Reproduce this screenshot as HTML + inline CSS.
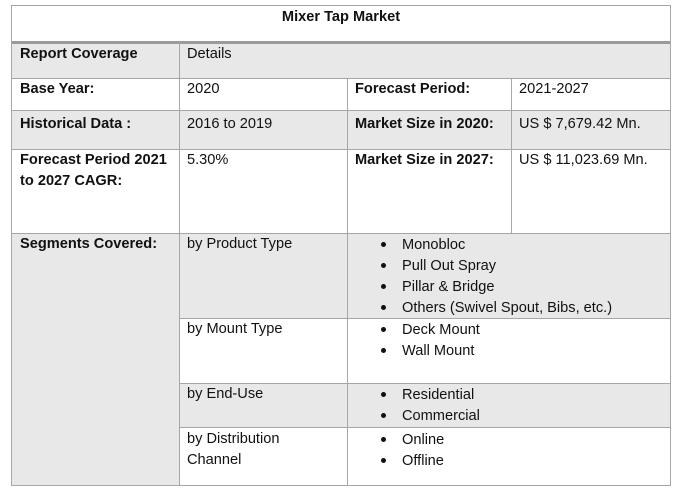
<!DOCTYPE html>
<html><head><meta charset="utf-8"><style>
body{margin:0;width:679px;height:495px;background:#fff;position:relative;overflow:hidden;font-family:"Liberation Sans Narrow","Liberation Sans",sans-serif;font-size:14.6px;color:#111}
div{position:absolute}
.g{background:#e8e8e8}
.h{height:1px;background:#a6a6a6}
.v{width:1px;background:#a6a6a6}
.b{font-weight:bold}
.t{white-space:nowrap;line-height:21px;padding-top:1px}
.dot{width:5px;height:5px;border-radius:50%;background:#111}
</style></head><body>
<div class="g" style="left:11px;top:42px;width:659px;height:36px"></div>
<div class="g" style="left:11px;top:110px;width:659px;height:39px"></div>
<div class="g" style="left:11px;top:233px;width:168px;height:252px"></div>
<div class="g" style="left:179px;top:233px;width:491px;height:85px"></div>
<div class="g" style="left:179px;top:383px;width:491px;height:44px"></div>
<div class="h" style="left:11px;top:5px;width:660px"></div>
<div class="h" style="left:11px;top:41px;width:660px;height:3px;background:#9a9a9a"></div>
<div class="h" style="left:11px;top:78px;width:660px"></div>
<div class="h" style="left:11px;top:110px;width:660px"></div>
<div class="h" style="left:11px;top:149px;width:660px"></div>
<div class="h" style="left:11px;top:233px;width:660px"></div>
<div class="h" style="left:179px;top:318px;width:492px"></div>
<div class="h" style="left:179px;top:383px;width:492px"></div>
<div class="h" style="left:179px;top:427px;width:492px"></div>
<div class="h" style="left:11px;top:485px;width:660px"></div>
<div class="v" style="left:11px;top:5px;height:481px"></div>
<div class="v" style="left:670px;top:5px;height:481px"></div>
<div class="v" style="left:179px;top:42px;height:443px"></div>
<div class="v" style="left:347px;top:78px;height:407px"></div>
<div class="v" style="left:511px;top:78px;height:155px"></div>
<div class="t b" style="left:11px;width:660px;text-align:center;top:6px">Mixer Tap Market</div>
<div class="t b" style="left:20px;top:43px">Report Coverage</div>
<div class="t" style="left:187px;top:43px">Details</div>
<div class="t b" style="left:20px;top:78px">Base Year:</div>
<div class="t" style="left:187px;top:78px">2020</div>
<div class="t b" style="left:355px;top:78px">Forecast Period:</div>
<div class="t" style="left:519px;top:78px">2021-2027</div>
<div class="t b" style="left:20px;top:113px">Historical Data :</div>
<div class="t" style="left:187px;top:113px">2016 to 2019</div>
<div class="t b" style="left:355px;top:113px">Market Size in 2020:</div>
<div class="t" style="left:519px;top:113px">US $ 7,679.42 Mn.</div>
<div class="t b" style="left:20px;top:149px">Forecast Period 2021<br>to 2027 CAGR:</div>
<div class="t" style="left:187px;top:149px">5.30%</div>
<div class="t b" style="left:355px;top:149px">Market Size in 2027:</div>
<div class="t" style="left:519px;top:149px">US $ 11,023.69 Mn.</div>
<div class="t b" style="left:20px;top:233px">Segments Covered:</div>
<div class="t" style="left:187px;top:233px">by Product Type</div>
<div class="t" style="left:187px;top:318px">by Mount Type</div>
<div class="t" style="left:187px;top:383px">by End-Use</div>
<div class="t" style="left:187px;top:428px">by Distribution<br>Channel</div>
<div class="t" style="left:402px;top:234px">Monobloc<br>Pull Out Spray<br>Pillar &amp; Bridge<br>Others (Swivel Spout, Bibs, etc.)</div>
<div class="t" style="left:402px;top:319px">Deck Mount<br>Wall Mount</div>
<div class="t" style="left:402px;top:384px">Residential<br>Commercial</div>
<div class="t" style="left:402px;top:429px">Online<br>Offline</div>
<div class="dot" style="left:381px;top:242px"></div>
<div class="dot" style="left:381px;top:263px"></div>
<div class="dot" style="left:381px;top:284px"></div>
<div class="dot" style="left:381px;top:305px"></div>
<div class="dot" style="left:381px;top:327px"></div>
<div class="dot" style="left:381px;top:348px"></div>
<div class="dot" style="left:381px;top:392px"></div>
<div class="dot" style="left:381px;top:413px"></div>
<div class="dot" style="left:381px;top:437px"></div>
<div class="dot" style="left:381px;top:458px"></div>
</body></html>
